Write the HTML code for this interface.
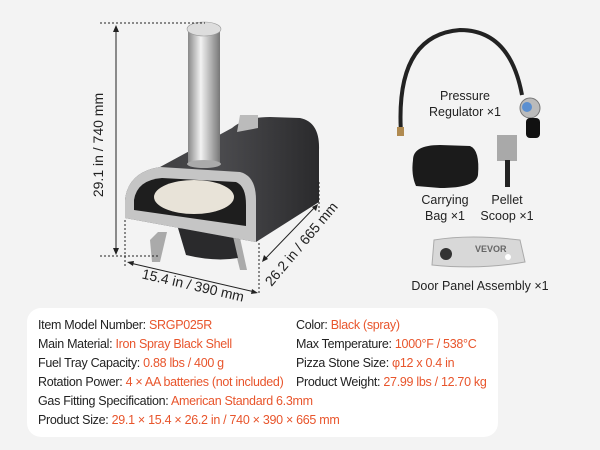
<!DOCTYPE html>
<html><head><meta charset="utf-8"><style>
body{margin:0;width:600px;height:450px;background:#f3f3f3;font-family:"Liberation Sans",sans-serif;overflow:hidden;position:relative}
.card{position:absolute;left:27px;top:308px;width:471px;height:129px;background:#fff;border-radius:14px}
.r{position:absolute;font-size:12.5px;color:#222;white-space:nowrap;letter-spacing:-0.3px}
.r b{font-weight:normal;color:#e8552c}
.lbl{position:absolute;font-size:12.5px;color:#222;text-align:center;line-height:16px;white-space:nowrap}
</style></head><body>
<svg width="600" height="450" style="position:absolute;left:0;top:0">
<defs>
<linearGradient id="st" x1="0" x2="1"><stop offset="0" stop-color="#888"/><stop offset=".4" stop-color="#f2f2f2"/><stop offset="1" stop-color="#777"/></linearGradient>
<linearGradient id="bd" x1="0" x2="1"><stop offset="0" stop-color="#3a3a3c"/><stop offset=".5" stop-color="#4a4a4d"/><stop offset="1" stop-color="#2a2a2c"/></linearGradient>
</defs>
<!-- oven -->
<path d="M150,240 L158,232 L167,232 L160,262 L152,262Z" fill="#aaa"/>
<path d="M232,238 L240,238 L247,270 L240,270Z" fill="#aaa"/>
<path d="M178,228 L232,232 L238,258 Q215,262 186,255 Z" fill="#2a2a2c"/>
<path d="M125,218 L125,200 Q128,172 160,167 L232,128 Q245,117 270,117 L300,118 Q320,122 319,150 L319,202 L256,242 L125,218Z" fill="url(#bd)"/>
<path d="M125,218 L125,200 Q128,172 160,167 L240,172 Q256,176 256,200 L256,242Z" fill="#c5c5c5"/>
<path d="M134,210 L134,200 Q137,180 162,178 L236,182 Q246,186 246,205 L246,226Z" fill="#1e1e1e"/>
<ellipse cx="194" cy="197" rx="40" ry="17" fill="#e8e3d8"/>
<path d="M237,132 L258,128 L258,115 L240,115Z" fill="#bbb"/>
<rect x="188" y="30" width="32" height="134" fill="url(#st)"/>
<ellipse cx="204" cy="29" rx="17" ry="7" fill="#ddd" stroke="#999" stroke-width=".6"/>
<ellipse cx="204" cy="164" rx="17" ry="4" fill="#aaa"/>
<g stroke="#222" stroke-width="1" fill="none">
<line x1="100" y1="23" x2="205" y2="23" stroke-dasharray="2,2"/>
<line x1="100" y1="256" x2="160" y2="256" stroke-dasharray="2,2"/>
<line x1="116" y1="28" x2="116" y2="252"/>
<line x1="125" y1="220" x2="125" y2="268" stroke-dasharray="2,2"/>
<line x1="259" y1="243" x2="259" y2="295" stroke-dasharray="2,2"/>
<line x1="319" y1="182" x2="319" y2="212" stroke-dasharray="2,2"/>
<line x1="130" y1="263" x2="255" y2="292"/>
<line x1="264" y1="260" x2="316" y2="206"/>
</g>
<g fill="#222">
<polygon points="116,25 113,32 119,32"/><polygon points="116,255 113,248 119,248"/>
<polygon points="127,262 134,261 133,266"/><polygon points="258,293 251,294 252,289"/>
<polygon points="262,262 264,255 268,259"/><polygon points="318,204 316,211 312,207"/>
</g>
<text font-size="14" fill="#222" font-family="Liberation Sans" text-anchor="middle" transform="translate(103,145) rotate(-90)">29.1 in / 740 mm</text>
<text font-size="14" fill="#222" font-family="Liberation Sans" text-anchor="middle" transform="translate(192,290) rotate(13)">15.4 in / 390 mm</text>
<text font-size="14" fill="#222" font-family="Liberation Sans" text-anchor="middle" transform="translate(305,247) rotate(-50)">26.2 in / 665 mm</text>
<!-- accessories -->
<path d="M401,133 Q395,35 460,30 Q510,30 522,95" stroke="#222" stroke-width="4" fill="none"/>
<rect x="397" y="127" width="7" height="9" fill="#b08a50"/>
<circle cx="530" cy="108" r="10" fill="#bbb" stroke="#777"/><circle cx="527" cy="107" r="5" fill="#5b8fd0"/>
<rect x="526" y="118" width="14" height="20" rx="4" fill="#111"/>
<path d="M413,160 Q413,145 440,145 L470,146 Q480,150 478,175 Q476,188 440,188 L416,186 Q411,175 413,160Z" fill="#1b1b1b"/>
<rect x="497" y="135" width="20" height="26" fill="#a9a9a9"/>
<rect x="505" y="160" width="5" height="27" fill="#222"/>
<path d="M434,240 Q470,234 520,240 L525,262 Q480,270 432,265Z" fill="#d8d8d8" stroke="#aaa"/>
<circle cx="446" cy="254" r="6" fill="#333"/>
<text x="475" y="252" font-size="9" font-weight="bold" fill="#666" font-family="Liberation Sans">VEVOR</text>
<circle cx="508" cy="257" r="3" fill="#fff"/>
</svg>
<div class="lbl" style="left:420px;top:88px;width:90px">Pressure<br>Regulator ×1</div>
<div class="lbl" style="left:410px;top:192px;width:70px">Carrying<br>Bag ×1</div>
<div class="lbl" style="left:475px;top:192px;width:64px">Pellet<br>Scoop ×1</div>
<div class="lbl" style="left:395px;top:278px;width:170px">Door Panel Assembly ×1</div>
<div class="card"></div>
<div class="r" style="left:38px;top:318px">Item Model Number: <b>SRGP025R</b></div>
<div class="r" style="left:38px;top:337px">Main Material: <b>Iron Spray Black Shell</b></div>
<div class="r" style="left:38px;top:356px">Fuel Tray Capacity: <b>0.88 lbs / 400 g</b></div>
<div class="r" style="left:38px;top:375px">Rotation Power: <b>4 × AA batteries (not included)</b></div>
<div class="r" style="left:38px;top:394px">Gas Fitting Specification: <b>American Standard 6.3mm</b></div>
<div class="r" style="left:38px;top:413px">Product Size: <b>29.1 × 15.4 × 26.2 in / 740 × 390 × 665 mm</b></div>
<div class="r" style="left:296px;top:318px">Color: <b>Black (spray)</b></div>
<div class="r" style="left:296px;top:337px">Max Temperature: <b>1000°F / 538°C</b></div>
<div class="r" style="left:296px;top:356px">Pizza Stone Size: <b>φ12 x 0.4 in</b></div>
<div class="r" style="left:296px;top:375px">Product Weight: <b>27.99 lbs / 12.70 kg</b></div>
</body></html>
